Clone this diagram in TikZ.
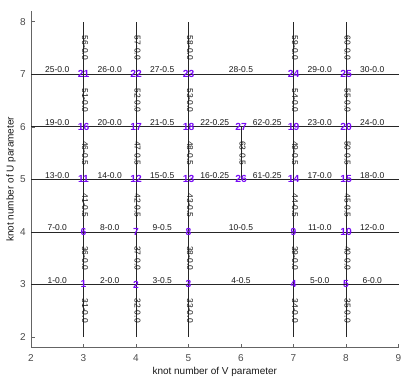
\documentclass[tikz,border=0pt]{standalone}
\usepackage{fontspec}
\setmainfont{Liberation Sans}
\definecolor{knotpurple}{RGB}{120,10,245}
\definecolor{axisgray}{RGB}{100,100,100}
\definecolor{tickgray}{RGB}{75,75,75}
\definecolor{labelgray}{RGB}{25,25,25}
\begin{document}
\begin{tikzpicture}[x=52.5pt,y=52.55pt,
  gridline/.style={draw=black!85, line width=0.65pt},
  axisline/.style={draw=axisgray, line width=0.6pt},
  knot/.style={text=knotpurple, font=\fontsize{10.3}{10.3}\selectfont\bfseries, inner sep=0pt, anchor=center},
  hlab/.style={anchor=base, inner sep=0pt, font=\fontsize{8.5}{8.5}\selectfont, text=labelgray},
  vlab/.style={anchor=base, rotate=-90, inner sep=0pt, font=\fontsize{8.5}{8.5}\selectfont, text=labelgray},
  ticklab/.style={text=tickgray, font=\fontsize{10}{10}\selectfont, inner sep=0pt},
  axlab/.style={text=labelgray, font=\fontsize{10}{10}\selectfont, inner sep=0pt},
]
\useasboundingbox (1.4095,1.106) rectangle (9.2,8.413);

% axes
\coordinate (O) at (2,1.8);
\coordinate (YT) at (2,8.2);
\coordinate (XR) at (9,1.8);
\draw[axisline] (YT) -- (O) -- (XR);
\foreach \y in {2,...,8} {
  \draw[axisline] (2,\y) -- ++(3.5pt,0);
  \node[ticklab, anchor=east] (yt\y) at ([xshift=-5pt]2,\y) {\y};
}
\foreach \x in {2,...,9} {
  \draw[axisline] (\x,1.8) -- ++(0,3.5pt);
  \node[ticklab, anchor=north] (xt\x) at ([yshift=-7.3pt]\x,1.8) {\x};
}
\node[axlab, anchor=base] (xlabel) at (5.5,1.285) {knot number of V parameter};
\node[axlab, anchor=base, rotate=90] (ylabel) at (1.667,5.0) {knot number of U parameter};

% grid lines
\foreach \y in {3,...,7} {
  \coordinate (hL\y) at (2,\y);
  \coordinate (hR\y) at (9,\y);
  \draw[gridline] (hL\y) -- (hR\y);
}
\foreach \x in {3,4,5,7,8} {
  \coordinate (vB\x) at (\x,2);
  \coordinate (vT\x) at (\x,8);
  \draw[gridline] (vB\x) -- (vT\x);
}
\coordinate (vB6) at (6,5);
\coordinate (vT6) at (6,6);
\draw[gridline] (vB6) -- (vT6);

% horizontal edge labels
\foreach \xm/\n/\t in {2.5/1/1-0.0, 3.5/2/2-0.0, 4.5/3/3-0.5, 6/4/4-0.5, 7.5/5/5-0.0, 8.5/6/6-0.0}
  \node[hlab] (e\n) at (\xm,3.025) {\t};
\foreach \xm/\n/\t in {2.5/7/7-0.0, 3.5/8/8-0.0, 4.5/9/9-0.5, 6/10/10-0.5, 7.5/11/11-0.0, 8.5/12/12-0.0}
  \node[hlab] (e\n) at (\xm,4.025) {\t};
\foreach \xm/\n/\t in {2.5/13/13-0.0, 3.5/14/14-0.0, 4.5/15/15-0.5, 5.5/16/16-0.25, 6.5/61/61-0.25, 7.5/17/17-0.0, 8.5/18/18-0.0}
  \node[hlab] (e\n) at (\xm,5.025) {\t};
\foreach \xm/\n/\t in {2.5/19/19-0.0, 3.5/20/20-0.0, 4.5/21/21-0.5, 5.5/22/22-0.25, 6.5/62/62-0.25, 7.5/23/23-0.0, 8.5/24/24-0.0}
  \node[hlab] (e\n) at (\xm,6.025) {\t};
\foreach \xm/\n/\t in {2.5/25/25-0.0, 3.5/26/26-0.0, 4.5/27/27-0.5, 6/28/28-0.5, 7.5/29/29-0.0, 8.5/30/30-0.0}
  \node[hlab] (e\n) at (\xm,7.025) {\t};

% vertical edge labels
\foreach \c/\x in {1/3,2/4,3/5,4/7,5/8} {
  \foreach \r/\v in {1/0.0,2/0.0,3/0.5,4/0.5,5/0.0,6/0.0} {
    \pgfmathtruncatemacro\num{30+\c+5*(\r-1)}
    \node[vlab] (e\num) at ({\x-0.025},{\r+1.5}) {\num-\v};
  }
}
\node[vlab] (e63) at ({6-0.025},5.5) {63-0.5};

% knots
\node[knot] (k1) at (3,3) {1};
\node[knot] (k2) at (4,3) {2};
\node[knot] (k3) at (5,3) {3};
\node[knot] (k4) at (7,3) {4};
\node[knot] (k5) at (8,3) {5};
\node[knot] (k6) at (3,4) {6};
\node[knot] (k7) at (4,4) {7};
\node[knot] (k8) at (5,4) {8};
\node[knot] (k9) at (7,4) {9};
\node[knot] (k10) at (8,4) {10};
\node[knot] (k11) at (3,5) {11};
\node[knot] (k12) at (4,5) {12};
\node[knot] (k13) at (5,5) {13};
\node[knot] (k26) at (6,5) {26};
\node[knot] (k14) at (7,5) {14};
\node[knot] (k15) at (8,5) {15};
\node[knot] (k16) at (3,6) {16};
\node[knot] (k17) at (4,6) {17};
\node[knot] (k18) at (5,6) {18};
\node[knot] (k27) at (6,6) {27};
\node[knot] (k19) at (7,6) {19};
\node[knot] (k20) at (8,6) {20};
\node[knot] (k21) at (3,7) {21};
\node[knot] (k22) at (4,7) {22};
\node[knot] (k23) at (5,7) {23};
\node[knot] (k24) at (7,7) {24};
\node[knot] (k25) at (8,7) {25};
\end{tikzpicture}
\end{document}
